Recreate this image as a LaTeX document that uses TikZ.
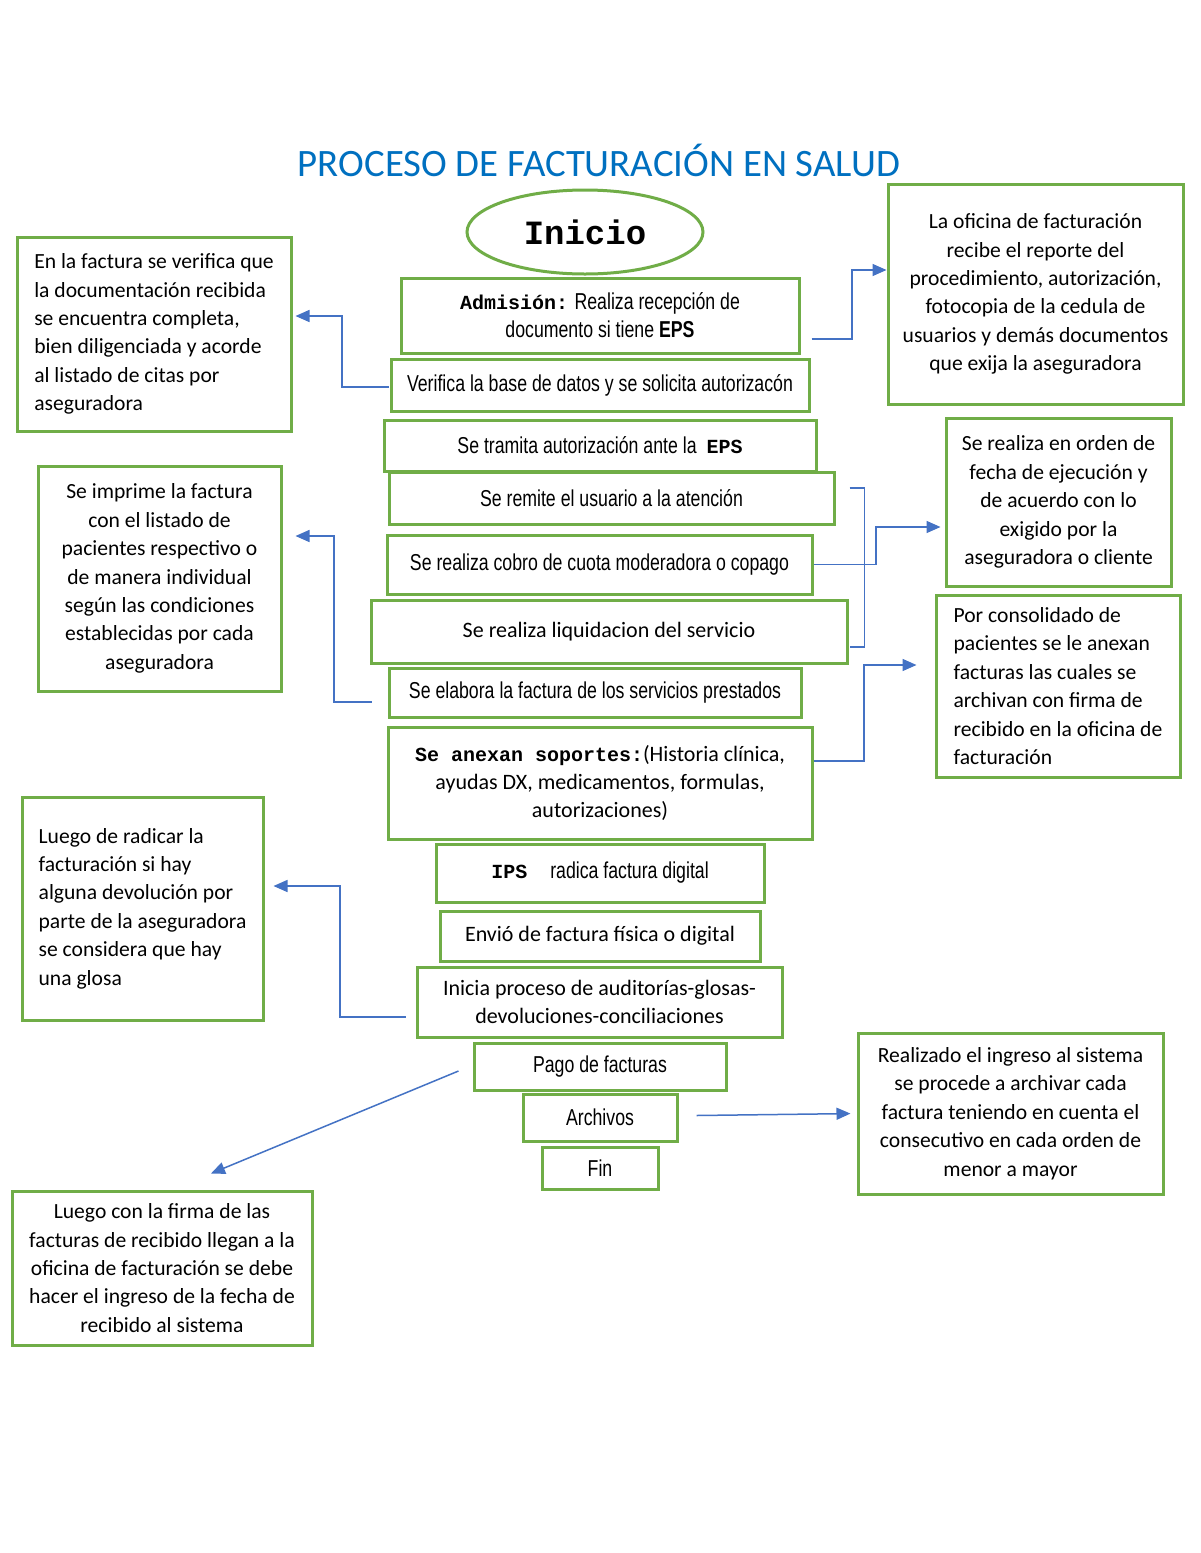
\documentclass[tikz,border=0pt]{standalone}
\usepackage{fontspec}
\setmainfont{Carlito}
\newfontfamily\narrowfont[FakeStretch=0.77]{Liberation Sans}
\newfontfamily\codefont{Liberation Mono}
\usetikzlibrary{shapes.geometric,arrows.meta,calc}

\definecolor{boxgreen}{RGB}{112,173,71}
\definecolor{linkblue}{RGB}{68,114,196}
\definecolor{titleblue}{RGB}{0,112,192}

\tikzset{
    paso/.style={draw=boxgreen, line width=1.5pt, fill=white, inner sep=0pt, align=center,
        font=\narrowfont\fontsize{11.5}{14}\selectfont},
    pasocal/.style={paso, font=\fontsize{11}{14.2}\selectfont},
    nota/.style={draw=boxgreen, line width=1.5pt, fill=white, inner sep=0pt,
        font=\fontsize{10.8}{14.2}\selectfont},
    link/.style={draw=linkblue, line width=0.75pt},
    flecha/.style={link, -{Triangle[length=7pt,width=6pt]}},
}

\begin{document}
\begin{tikzpicture}[x=0.5pt,y=-0.5pt]

    % Page of the same size as the reference
    \fill[white] (0,0) rectangle (1200,1553);
    \useasboundingbox (0,0) rectangle (1200,1553);

    % Title
    \node[text=titleblue, font=\fontsize{19.4}{22}\selectfont] (titulo) at (599,160) {PROCESO DE FACTURACIÓN EN SALUD};

    % Start of the process
    \node[draw=boxgreen, line width=1.5pt, ellipse, minimum width=118pt, minimum height=42pt,
        font=\codefont\bfseries\fontsize{17}{20}\selectfont] (inicio) at (585,232) {Inicio};

    % Main column of steps
    \node[paso, minimum width=199pt, minimum height=37.5pt] (adm) at (600,315.5)
        {{\codefont\bfseries\fontsize{10}{14}\selectfont Admisión:} Realiza recepción de\\documento si tiene \textbf{EPS}};
    \node[paso, minimum width=209pt, minimum height=26pt] (ver) at (600,385)
        {Verifica la base de datos y se solicita autorizacón};
    \node[paso, minimum width=216pt, minimum height=25.5pt] (tram) at (600,445.5)
        {Se tramita autorización ante la \ {\codefont\bfseries\fontsize{10}{14}\selectfont EPS}};
    \node[paso, minimum width=222.5pt, minimum height=26pt] (rem) at (611.5,498)
        {Se remite el usuario a la atención};
    \node[paso, minimum width=212.5pt, minimum height=29.5pt] (cuota) at (599.5,564.5)
        {Se realiza cobro de cuota moderadora o copago};
    \node[pasocal, minimum width=238pt, minimum height=31.5pt] (liq) at (609,631.5)
        {Se realiza liquidacion del servicio};
    \node[paso, minimum width=206pt, minimum height=24.5pt] (elab) at (595,692.5)
        {Se elabora la factura de los servicios prestados};
    \node[pasocal, minimum width=212pt, minimum height=56pt] (anex) at (600,783)
        {{\codefont\bfseries\fontsize{10}{14}\selectfont Se anexan soportes:}(Historia clínica,\\ayudas DX, medicamentos, formulas,\\autorizaciones)};
    \node[paso, minimum width=164pt, minimum height=29pt] (ips) at (600,873)
        {{\codefont\bfseries\fontsize{10}{14}\selectfont IPS}\quad radica factura digital};
    \node[pasocal, minimum width=160pt, minimum height=25pt] (env) at (600,936)
        {Envió de factura física o digital};
    \node[pasocal, minimum width=182.5pt, minimum height=35pt] (ini) at (599.5,1002)
        {Inicia proceso de auditorías-glosas-\\devoluciones-conciliaciones};
    \node[paso, minimum width=126pt, minimum height=23.5pt] (pago) at (600,1066.5) {Pago de facturas};
    \node[paso, minimum width=77pt, minimum height=23.5pt] (arch) at (600,1117.5) {Archivos};
    \node[paso, minimum width=58pt, minimum height=21pt] (fin) at (600,1168) {Fin};

    % Notes on the left
    \node[nota, minimum width=137pt, minimum height=97pt, align=left] (L1) at (154,334)
        {En la factura se verifica que\\la documentación recibida\\se encuentra completa,\\bien diligenciada y acorde\\al listado de citas por\\aseguradora};
    \node[nota, minimum width=121.5pt, minimum height=112.5pt, align=center] (L2) at (159.5,578.5)
        {Se imprime la factura\\con el listado de\\pacientes respectivo o\\de manera individual\\según las condiciones\\establecidas por cada\\aseguradora};
    \node[nota, minimum width=120.5pt, minimum height=111.5pt, align=left] (L3) at (142.5,908.5)
        {Luego de radicar la\\facturación si hay\\alguna devolución por\\parte de la aseguradora\\se considera que hay\\una glosa};
    \node[nota, minimum width=150pt, minimum height=77pt, align=center] (L4) at (162,1268)
        {Luego con la firma de las\\facturas de recibido llegan a la\\oficina de facturación se debe\\hacer el ingreso de la fecha de\\recibido al sistema};

    % Notes on the right
    \node[nota, minimum width=147.5pt, minimum height=110pt, align=center] (R1) at (1035.5,294)
        {La oficina de facturación\\recibe el reporte del\\procedimiento, autorización,\\fotocopia de la cedula de\\usuarios y demás documentos\\que exija la aseguradora};
    \node[nota, minimum width=112.5pt, minimum height=84pt, align=center] (R2) at (1058.5,502)
        {Se realiza en orden de\\fecha de ejecución y\\de acuerdo con lo\\exigido por la\\aseguradora o cliente};
    \node[nota, minimum width=122pt, minimum height=91pt, align=left] (R3) at (1058,686)
        {Por consolidado de\\pacientes se le anexan\\facturas las cuales se\\archivan con firma de\\recibido en la oficina de\\facturación};
    \node[nota, minimum width=152.5pt, minimum height=80.5pt, align=center] (R4) at (1010.5,1113.5)
        {Realizado el ingreso al sistema\\se procede a archivar cada\\factura teniendo en cuenta el\\consecutivo en cada orden de\\menor a mayor};

    % Bend points of the connectors
    \coordinate (k1) at (852,270);
    \coordinate (k3) at (876,527);
    \coordinate (k4) at (864,665);
    \coordinate (k5) at (342,316);
    \coordinate (k6) at (334,536);
    \coordinate (k7) at (340,886);

    % Connectors to the right
    \draw[flecha] ($(adm.east)+(11,23.5)$) -| (k1) -- (k1 -| R1.west);
    \draw[link] ($(rem.east)+(14,-10)$) -| ($(liq.east)+(16,15.5)$) -- ($(liq.east)+(1,15.5)$);
    \draw[flecha, shorten >=2pt] (cuota.east) -| (k3) -- (k3 -| R2.west);
    \draw[flecha, shorten >=9pt] ($(anex.east)+(0,-22)$) -| (k4) -- (k4 -| R3.west);
    \draw[flecha, shorten >=3pt] ($(arch.east)+(18,-2)$) -- (R4.west);

    % Connectors to the left
    \draw[flecha, shorten >=1.5pt] ($(ver.west)+(-1,2)$) -| (k5) -- (k5 -| L1.east);
    \draw[flecha, shorten >=6.5pt] ($(elab.west)+(-16,9.5)$) -| (k6) -- (k6 -| L2.east);
    \draw[flecha, shorten >=4.5pt] ($(ini.west)+(-10,15)$) -| (k7) -- (k7 -| L3.east);
    \draw[flecha] ($(pago.west)+(-14,4.5)$) -- ($(L4.north)+(49,-16)$);

\end{tikzpicture}
\end{document}
